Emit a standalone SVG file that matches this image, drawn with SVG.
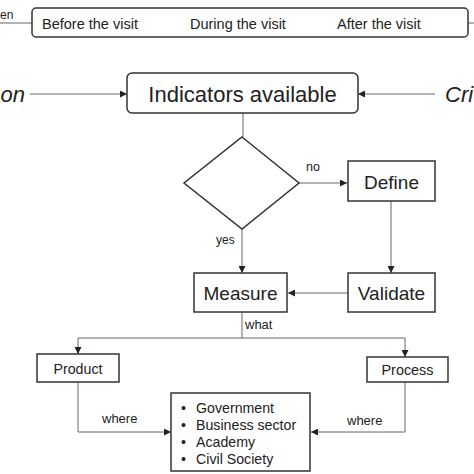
<svg xmlns="http://www.w3.org/2000/svg" width="474" height="474" viewBox="0 0 474 474">
<defs>
<marker id="ah" viewBox="0 0 10 10" refX="10" refY="5" markerWidth="7" markerHeight="7" markerUnits="userSpaceOnUse" orient="auto"><path d="M0,0 L10,5 L0,10 z" fill="#222"/></marker>
<style>
text{font-family:"Liberation Sans",Arial,sans-serif;fill:#222}
.box{fill:#fff;stroke:#333;stroke-width:1.5}
.ln{fill:none;stroke:#666;stroke-width:1}
.lbl{font-size:13px}
</style>
</defs>
<rect width="474" height="474" fill="#fff"/>
<g id="connectors">
<line class="ln" x1="0" y1="23" x2="32" y2="23"/>
<line class="ln" x1="468" y1="23" x2="474" y2="23"/>
<line class="ln" x1="30" y1="94" x2="127" y2="94" marker-end="url(#ah)"/>
<line class="ln" x1="435" y1="94" x2="358" y2="94" marker-end="url(#ah)"/>
<line class="ln" x1="243" y1="113" x2="243" y2="137"/>
<line class="ln" x1="299" y1="183" x2="347" y2="183" marker-end="url(#ah)"/>
<line class="ln" x1="391" y1="201" x2="391" y2="273" marker-end="url(#ah)"/>
<line class="ln" x1="242" y1="229" x2="242" y2="273" marker-end="url(#ah)"/>
<line class="ln" x1="348" y1="293" x2="288" y2="293" marker-end="url(#ah)"/>
<polyline class="ln" points="242,312 242,338"/>
<polyline class="ln" points="405,338 78,338 78,354" marker-end="url(#ah)"/>
<line class="ln" x1="405" y1="338" x2="405" y2="357" marker-end="url(#ah)"/>
<polyline class="ln" points="78,382 78,432 171,432" marker-end="url(#ah)"/>
<polyline class="ln" points="405,382 405,432 311,432" marker-end="url(#ah)"/>
<text x="306" y="171" font-size="12.5">no</text>
<text x="216" y="244" font-size="12">yes</text>
<text class="lbl" x="245" y="329">what</text>
<text class="lbl" x="102" y="423">where</text>
<text class="lbl" x="347" y="425">where</text>
</g>
<g id="en"><text x="0" y="19" font-size="12">en</text></g>
<g id="phases">
<rect class="box" x="32" y="8" width="436" height="29" rx="4"/>
<text x="42" y="29" font-size="14.5">Before the visit</text>
<text x="190" y="29" font-size="14.5">During the visit</text>
<text x="337" y="29" font-size="14.5">After the visit</text>
</g>
<g id="left-label"><text x="25" y="102" font-size="22" font-style="italic" text-anchor="end">on</text></g>
<g id="right-label"><text x="445" y="102" font-size="22" font-style="italic">Cri</text></g>
<g id="indicators">
<rect class="box" x="127" y="73" width="231" height="40" rx="5"/>
<text x="242.5" y="102" font-size="22" text-anchor="middle">Indicators available</text>
</g>
<g id="decision"><polygon class="box" points="242,137 299,183 242,229 184,183"/></g>
<g id="define">
<rect class="box" x="348" y="161" width="87" height="40"/>
<text x="391.5" y="189" font-size="19" text-anchor="middle">Define</text>
</g>
<g id="validate">
<rect class="box" x="348" y="273" width="87" height="39"/>
<text x="391.5" y="300" font-size="19" text-anchor="middle">Validate</text>
</g>
<g id="measure">
<rect class="box" x="194" y="273" width="93" height="39"/>
<text x="240.5" y="300" font-size="19" text-anchor="middle">Measure</text>
</g>
<g id="product">
<rect class="box" x="37" y="354" width="82" height="28"/>
<text x="78" y="374" font-size="14.2" text-anchor="middle">Product</text>
</g>
<g id="process">
<rect class="box" x="367" y="357" width="81" height="25"/>
<text x="407.5" y="375" font-size="14.4" text-anchor="middle">Process</text>
</g>
<g id="sectors">
<rect class="box" x="171" y="393" width="139" height="78"/>
<g font-size="14.2">
<text x="181" y="413">•</text><text x="196" y="413">Government</text>
<text x="181" y="430">•</text><text x="196" y="430">Business sector</text>
<text x="181" y="447">•</text><text x="196" y="447">Academy</text>
<text x="181" y="464">•</text><text x="196" y="464">Civil Society</text>
</g>
</g>
</svg>
